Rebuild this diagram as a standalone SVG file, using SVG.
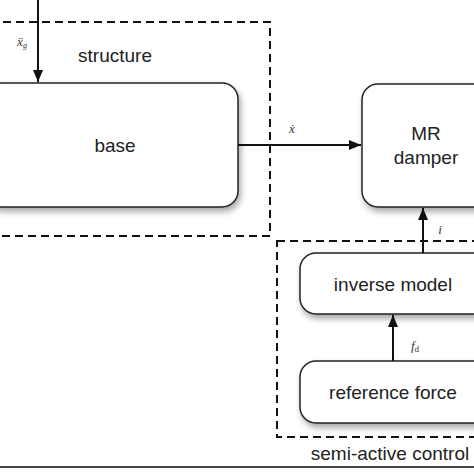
<svg xmlns="http://www.w3.org/2000/svg" width="474" height="474" viewBox="0 0 474 474">
<defs>
<filter id="sh" x="-20%" y="-20%" width="140%" height="150%">
<feDropShadow dx="2" dy="4" stdDeviation="3" flood-color="#000" flood-opacity="0.35"/>
</filter>
<marker id="ah" viewBox="0 0 10 12" refX="12" refY="6" markerWidth="12" markerHeight="12" markerUnits="userSpaceOnUse" orient="auto">
<path d="M0,1 L12,6 L0,11 z" fill="#111"/>
</marker>
</defs>
<style>
.box{fill:#fff;stroke:#222;stroke-width:1.5;filter:url(#sh)}
.dash{fill:none;stroke:#111;stroke-width:2;stroke-dasharray:8,5}
.t{font-family:"Liberation Sans",Arial,sans-serif;font-size:19px;fill:#222;text-anchor:middle}
.m{font-family:"Liberation Serif","Times New Roman",serif;font-style:italic;font-size:13px;fill:#333;text-anchor:middle}
.c{stroke:#111;stroke-width:2;fill:none;marker-end:url(#ah)}
</style>
<rect width="474" height="474" fill="#fff"/>
<g id="structure-group">
<rect class="dash" x="-10" y="22" width="280" height="214"/>
<text class="t" x="115" y="62">structure</text>
</g>
<g id="semi-active-group">
<rect class="dash" x="277" y="241" width="210" height="196"/>
<text class="t" x="390" y="460">semi-active control</text>
</g>
<g id="base">
<rect class="box" x="-15" y="83" width="253" height="124" rx="16"/>
<text class="t" x="115" y="152">base</text>
</g>
<g id="mr-damper">
<rect class="box" x="362" y="84" width="130" height="123" rx="16"/>
<text class="t" x="426" y="140">MR</text>
<text class="t" x="426" y="164">damper</text>
</g>
<g id="inverse-model">
<rect class="box" x="300" y="253" width="190" height="61" rx="16"/>
<text class="t" x="393" y="291">inverse model</text>
</g>
<g id="reference-force">
<rect class="box" x="300" y="361" width="190" height="62" rx="16"/>
<text class="t" x="393" y="399">reference force</text>
</g>
<g id="connectors">
<line class="c" x1="38" y1="0" x2="38" y2="82"/>
<line class="c" x1="238" y1="145" x2="361" y2="145"/>
<line class="c" x1="423" y1="253" x2="423" y2="208"/>
<line class="c" x1="393" y1="361" x2="393" y2="315"/>
<text class="m" x="22" y="46">ẍ<tspan font-size="8" dy="2">g</tspan></text>
<text class="m" x="292" y="133">ẋ</text>
<text class="m" x="440" y="234">i</text>
<text class="m" x="415" y="350">f<tspan font-style="normal" font-size="9" dy="2">d</tspan></text>
</g>
<line x1="0" y1="467" x2="474" y2="467" stroke="#444" stroke-width="2"/>
</svg>
